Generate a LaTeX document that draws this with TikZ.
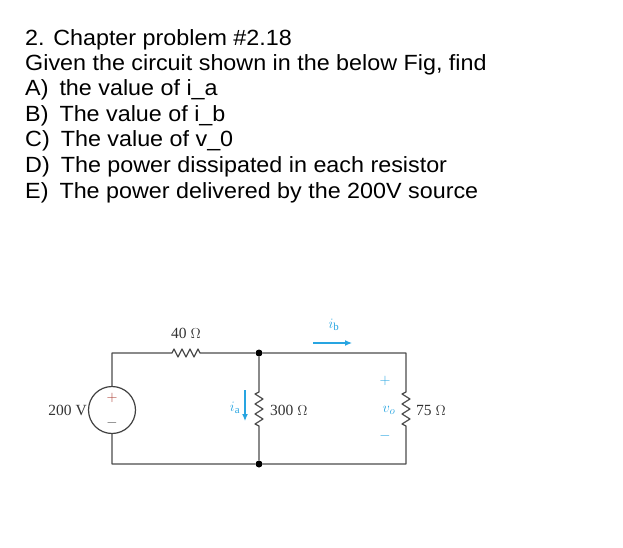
\documentclass[tikz,border=0pt]{standalone}
\usepackage{fontspec}
\usetikzlibrary{arrows.meta}
\setmainfont{Liberation Serif}
\newfontfamily\qfont[FakeStretch=1.06]{Liberation Sans}
\definecolor{cblue}{RGB}{40,165,225}
\definecolor{plusred}{RGB}{170,60,50}
\begin{document}
\begin{tikzpicture}[x=1pt,y=-1pt,
  wire/.style={draw=black!70,line width=1.2pt,line join=round},
  dotn/.style={circle,fill=black,inner sep=0pt,minimum size=7pt},
  qtext/.style={anchor=west,inner sep=0pt,font=\qfont\fontsize{22}{25}\selectfont},
  clab/.style={inner sep=0pt,font=\fontsize{15.5}{17}\selectfont,text=black!80},
  blab/.style={inner sep=0pt,font=\fontsize{15.5}{17}\selectfont\itshape,text=cblue},
  barrow/.style={draw=cblue,line width=1.2pt,-{Latex[length=7pt,width=6pt]}}]
\useasboundingbox (0,0) rectangle (623,548);
\node[qtext] (q1) at (25,40) {2. Chapter problem \#2.18};
\node[qtext] (q2) at (25,65) {Given the circuit shown in the below Fig, find};
\node[qtext] (q3) at (25,90) {A)\enspace the value of i\_a};
\node[qtext] (q4) at (25,116) {B)\enspace The value of i\_b};
\node[qtext] (q5) at (25,141) {C)\enspace The value of v\_0};
\node[qtext] (q6) at (25,167) {D)\enspace The power dissipated in each resistor};
\node[qtext] (q7) at (25,193) {E)\enspace The power delivered by the 200V source};
% circuit
\coordinate (tl) at (112,353); \coordinate (bl) at (112,464);
\node[dotn] (nt) at (259,353) {}; \node[dotn] (nb) at (259,464) {};
\coordinate (tr) at (406,353); \coordinate (br) at (406,464);
\node[circle,draw=black!75,line width=1.2pt,minimum size=47pt,inner sep=0pt] (src) at (112,410) {};
\node[font=\fontsize{15}{15}\selectfont,text=plusred,inner sep=0pt] (sp) at (112,398) {$+$};
\node[font=\fontsize{15}{15}\selectfont,text=black!70,inner sep=0pt] (sm) at (112,423) {$-$};
\coordinate (r1a) at (172,353); \coordinate (r1b) at (200,353);
\coordinate (r2a) at (259,392); \coordinate (r2b) at (259,426);
\coordinate (r3a) at (406,392); \coordinate (r3b) at (406,426);
\draw[wire] (src.north) -- (tl) -- (r1a)
  -- ++(2,-4) -- ++(4,8) -- ++(4,-8) -- ++(4,8) -- ++(4,-8) -- ++(4,8) -- ++(4,-8) -- (r1b) -- (nt) -- (tr) -- (r3a)
  -- ++(-4,2) -- ++(8,5) -- ++(-8,5) -- ++(8,5) -- ++(-8,5) -- ++(8,5) -- ++(-8,5) -- ++(4,2) -- (r3b) -- (br) -- (nb) -- (bl) -- (src.south);
\draw[wire] (nt) -- (r2a)
  -- ++(-4,2) -- ++(8,5) -- ++(-8,5) -- ++(8,5) -- ++(-8,5) -- ++(8,5) -- ++(-8,5) -- ++(4,2) -- (r2b) -- (nb);
\node[clab,anchor=east] (vs) at (87,410) {200 V};
\node[clab] (l40) at (186,333) {40 $\Omega$};
\node[clab,anchor=west] (l300) at (270,410) {300 $\Omega$};
\node[clab,anchor=west] (l75) at (416,410) {75 $\Omega$};
\node[blab] (ia) at (235,408) {$i_{\mathrm{a}}$};
\coordinate (iaa) at (245,390); \coordinate (iab) at (245,421);
\draw[barrow] (iaa) -- (iab);
\node[blab] (ib) at (334,325) {$i_{\mathrm{b}}$};
\coordinate (iba) at (313,343); \coordinate (ibb) at (352,343);
\draw[barrow] (iba) -- (ibb);
\node[blab] (vo) at (389,410) {$v_o$};
\node[text=cblue,inner sep=0pt,font=\fontsize{15}{15}\selectfont] (vp) at (385,381) {$+$};
\node[text=cblue,inner sep=0pt,font=\fontsize{15}{15}\selectfont] (vm) at (385,436) {$-$};
\end{tikzpicture}
\end{document}
